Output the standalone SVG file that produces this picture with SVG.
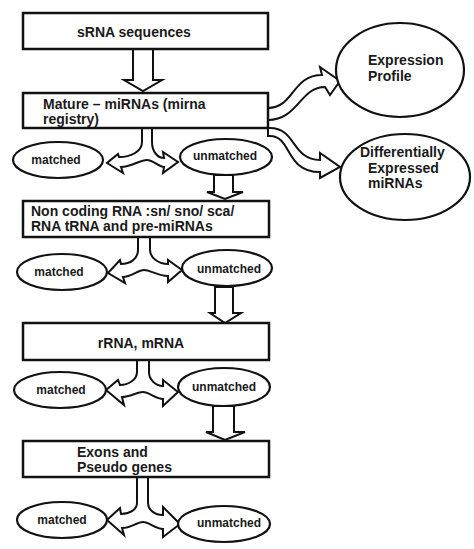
<svg xmlns="http://www.w3.org/2000/svg" width="474" height="549" viewBox="0 0 474 549">
<style>
.box{fill:#fff;stroke:#111;stroke-width:2.5}
.ell{fill:#fff;stroke:#111;stroke-width:2.2}
.arr{fill:#fff;stroke:#111;stroke-width:2;stroke-linejoin:miter}
.t{font-family:"Liberation Sans",Arial,sans-serif;font-weight:bold;font-size:14px;fill:#1a1a1a}
.s{font-family:"Liberation Sans",Arial,sans-serif;font-weight:bold;font-size:12px;fill:#1a1a1a;text-anchor:middle}
</style>
<rect width="474" height="549" fill="#fff"/>
<g id="connectors">
<polygon class="arr" points="133,49 153,49 153,80 162,80 143,91 124,80 133,80"/>
<polygon class="arr" points="214,175 233,175 233,192 243,192 225,199 207,192 214,192"/>
<polygon class="arr" points="215,287 233,287 233,313 241,313 225,323 210,313 215,313"/>
<polygon class="arr" points="213,406 234,406 234,432 245,432 225,440 206,432 213,432"/>
<path class="arr" d="M268,108 C294,108 292,75 322,75 L320,67 L340,81 L330,95 L325,87 C300,87 298,120 268,120 Z"/>
<path class="arr" d="M268,128 L270,128 C296,128 292,160 320,160 L320,153 L340,167 L320,178 L320,172 C285,172 292,136 270,136 L268,136 Z"/>
<path class="arr" d="M142,128 L142,142 C142,152 130,157 119,157 L118,154 L107,163 L123,173 L121,167 C131,167 140,160 147,160 C154,160 158,167 164,167 L163,173 L178,162 L163,152 L164,158 C158,158 152,152 152,142 L152,128 Z"/>
<path class="arr" d="M138,237 L138,250 C138,259 130,264 121,264 L120,260 L108,273 L125,283 L123,277 C131,277 138,270 144,270 C150,270 158,276 168,276 L168,282 L182,270 L168,260 L168,264 C159,264 150,258 150,250 L150,237 Z"/>
<path class="arr" d="M137,360 L137,372 C137,380 128,385 120,385 L118,380 L106,390 L124,405 L122,397 C130,397 137,392 143,392 C149,392 156,399 163,399 L163,406 L178,392 L163,380 L163,386 C156,386 149,380 149,372 L149,360 Z"/>
<path class="arr" d="M137,477 L137,503 C137,510 129,514 121,514 L120,508 L107,520 L124,535 L122,528 C131,528 137,522 143,522 C149,522 156,529 163,529 L163,537 L180,524 L163,507 L163,515 C155,515 148,510 148,503 L148,477 Z"/>
</g>
<g id="n-srna"><rect class="box" x="23" y="13" width="245" height="36"/><text class="t" x="77" y="37">sRNA sequences</text></g>
<g id="n-mature"><rect class="box" x="23" y="93" width="245" height="35"/><text class="t" x="43" y="108.5">Mature – miRNAs (mirna</text><text class="t" x="43" y="124">registry)</text></g>
<g id="n-expr"><ellipse class="ell" cx="400" cy="70" rx="64" ry="47"/><text class="t" x="368" y="65">Expression</text><text class="t" x="368" y="81">Profile</text></g>
<g id="n-diff"><ellipse class="ell" cx="405" cy="177" rx="65" ry="43"/><text class="t" x="360" y="157">Differentially</text><text class="t" x="368" y="173">Expressed</text><text class="t" x="368" y="188">miRNAs</text></g>
<g id="n-m1"><ellipse class="ell" cx="58" cy="160" rx="45" ry="18"/><text class="s" x="56" y="164">matched</text></g>
<g id="n-u1"><ellipse class="ell" cx="226" cy="157" rx="46" ry="18"/><text class="s" x="225" y="160">unmatched</text></g>
<g id="n-noncoding"><rect class="box" x="23" y="201" width="246" height="36"/><text class="t" x="31" y="216">Non coding RNA :sn/ sno/ sca/</text><text class="t" x="31" y="231">RNA tRNA and pre-miRNAs</text></g>
<g id="n-m2"><ellipse class="ell" cx="62" cy="272" rx="45" ry="18"/><text class="s" x="59" y="276">matched</text></g>
<g id="n-u2"><ellipse class="ell" cx="227" cy="268" rx="45" ry="18"/><text class="s" x="229" y="273">unmatched</text></g>
<g id="n-rrna"><rect class="box" x="23" y="323" width="246" height="37"/><text class="t" x="141" y="348" text-anchor="middle">rRNA, mRNA</text></g>
<g id="n-m3"><ellipse class="ell" cx="60" cy="390" rx="46" ry="18"/><text class="s" x="61" y="394">matched</text></g>
<g id="n-u3"><ellipse class="ell" cx="224" cy="387" rx="46" ry="19"/><text class="s" x="224" y="391">unmatched</text></g>
<g id="n-exons"><rect class="box" x="23" y="441" width="246" height="36"/><text class="t" x="77" y="457">Exons and</text><text class="t" x="77" y="472">Pseudo genes</text></g>
<g id="n-m4"><ellipse class="ell" cx="62" cy="520" rx="45" ry="18"/><text class="s" x="62" y="524">matched</text></g>
<g id="n-u4"><ellipse class="ell" cx="224" cy="524" rx="46" ry="18"/><text class="s" x="229" y="527">unmatched</text></g>
</svg>
